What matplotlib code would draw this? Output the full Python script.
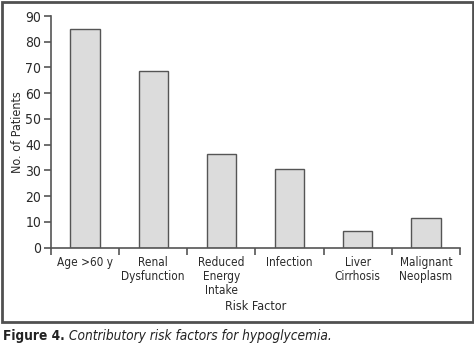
import matplotlib
matplotlib.use('Agg')
import matplotlib.pyplot as plt
from matplotlib.patches import Rectangle

plt.rcParams['font.family'] = ['DejaVu Sans']
plt.rcParams['font.stretch'] = 'condensed'

# Data
categories = ['Age >60 y', 'Renal\nDysfunction', 'Reduced\nEnergy\nIntake',
              'Infection', 'Liver\nCirrhosis', 'Malignant\nNeoplasm']
patients = [85, 68.5, 36.5, 30.5, 6.5, 11.5]
y_ticks = [0, 10, 20, 30, 40, 50, 60, 70, 80, 90]

text_color = '#2a2a2a'
edge_color = '#555555'

fig = plt.figure(figsize=(4.74, 3.49), dpi=100)
ax = fig.add_axes([51 / 474, 1 - 247.7 / 349, 409 / 474, 231.7 / 349])

positions = list(range(len(categories)))
ax.bar(positions, patients, width=0.43, color='#dcdcdc',
       edgecolor=edge_color, linewidth=1.0, zorder=2)

ax.set_xlim(-0.5, len(categories) - 0.5)
ax.set_ylim(0, 90)
ax.set_yticks(y_ticks)

# tick marks at category boundaries, labels at centres
ax.set_xticks([p - 0.5 for p in positions] + [len(categories) - 0.5])
ax.set_xticklabels([])
ax.set_xticks(positions, minor=True)
ax.set_xticklabels(categories, minor=True, fontsize=8.5, color=text_color,
                   linespacing=1.12, va='top')
ax.tick_params(axis='x', which='minor', length=0, pad=6)
ax.tick_params(axis='x', which='major', length=5, width=1.2,
               color=edge_color, direction='out')
ax.tick_params(axis='y', length=5, width=1.2, color=edge_color,
               labelsize=10, labelcolor=text_color, pad=2)

for side in ['top', 'right']:
    ax.spines[side].set_visible(False)
for side in ['left', 'bottom']:
    ax.spines[side].set_color(edge_color)
    ax.spines[side].set_linewidth(1.2)

ax.set_ylabel('No. of Patients', fontsize=9, color=text_color)
ax.yaxis.set_label_coords(-0.066, 0.5)
ax.set_xlabel('Risk Factor', fontsize=9, color=text_color, labelpad=2)

# outer frame around the chart
fig.patches.append(Rectangle((1.5 / 474, 1 - 322 / 349), 471 / 474, 320.5 / 349,
                             transform=fig.transFigure, fill=False,
                             edgecolor='#505050', linewidth=2.0))

# caption
cap = fig.text(3 / 474, 1 - 336 / 349, 'Figure 4.', fontsize=9.8,
               fontweight='bold', color='#222222', va='center')
ax.annotate(' Contributory risk factors for hypoglycemia.', xy=(1, 0.5),
            xycoords=cap, va='center', ha='left', fontsize=9.8,
            style='italic', color='#222222', annotation_clip=False)

fig.savefig('out.png', dpi=100)
